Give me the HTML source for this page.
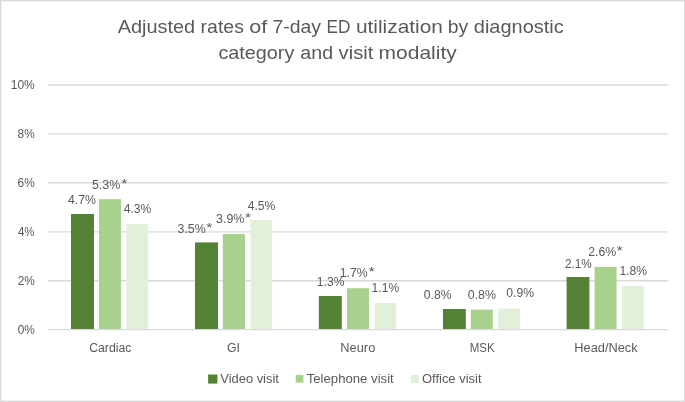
<!DOCTYPE html>
<html><head><meta charset="utf-8"><title>Adjusted rates of 7-day ED utilization</title>
<style>
html,body{margin:0;padding:0;background:#fff}
svg{display:block}
text{font-family:"Liberation Sans", sans-serif;fill:#595959}
</style></head><body>
<svg width="685" height="402" viewBox="0 0 685 402">
<rect x="0" y="0" width="685" height="402" fill="#fff"/>
<rect x="0" y="0" width="685" height="1.35" fill="#d9d9d9"/>
<rect x="0" y="0" width="1.4" height="402" fill="#d9d9d9"/>
<rect x="683.95" y="0" width="1.05" height="402" fill="#d9d9d9"/>
<rect x="0" y="400.6" width="685" height="1.4" fill="#d9d9d9"/>
<line x1="48.0" x2="667.6" y1="85.00" y2="85.00" stroke="#d9d9d9" stroke-width="1.4"/>
<line x1="48.0" x2="667.6" y1="133.90" y2="133.90" stroke="#d9d9d9" stroke-width="1.4"/>
<line x1="48.0" x2="667.6" y1="182.80" y2="182.80" stroke="#d9d9d9" stroke-width="1.4"/>
<line x1="48.0" x2="667.6" y1="231.90" y2="231.90" stroke="#d9d9d9" stroke-width="1.4"/>
<line x1="48.0" x2="667.6" y1="280.70" y2="280.70" stroke="#d9d9d9" stroke-width="1.4"/>
<line x1="48.0" x2="667.6" y1="329.60" y2="329.60" stroke="#d9d9d9" stroke-width="1.4"/>
<rect x="71" y="214" width="23.00" height="115.00" fill="#548235"/>
<rect x="99" y="199.2" width="22.00" height="129.80" fill="#a9d18e"/>
<rect x="126.2" y="224" width="22.00" height="105.00" fill="#e2f0d9"/>
<rect x="195" y="242.4" width="23.00" height="86.60" fill="#548235"/>
<rect x="222.8" y="234" width="22.20" height="95.00" fill="#a9d18e"/>
<rect x="250.4" y="220" width="21.80" height="109.00" fill="#e2f0d9"/>
<rect x="318.8" y="296" width="23.00" height="33.00" fill="#548235"/>
<rect x="347" y="288.2" width="22.00" height="40.80" fill="#a9d18e"/>
<rect x="374.4" y="303" width="21.80" height="26.00" fill="#e2f0d9"/>
<rect x="443" y="309" width="22.80" height="20.00" fill="#548235"/>
<rect x="470.8" y="309.6" width="22.00" height="19.40" fill="#a9d18e"/>
<rect x="498.2" y="308.6" width="21.80" height="20.40" fill="#e2f0d9"/>
<rect x="566.6" y="277" width="22.80" height="52.00" fill="#548235"/>
<rect x="594.6" y="267" width="22.00" height="62.00" fill="#a9d18e"/>
<rect x="622" y="286" width="21.80" height="43.00" fill="#e2f0d9"/>
<rect x="208.1" y="374.5" width="9.3" height="9.1" fill="#548235"/>
<rect x="295.7" y="374.9" width="7.7" height="7.7" fill="#a9d18e"/>
<rect x="410.9" y="374.9" width="7.8" height="8.0" fill="#e2f0d9"/>
<text x="117.66" y="32.60" font-size="19.0" textLength="77.47" lengthAdjust="spacingAndGlyphs">Adjusted</text>
<text x="200.61" y="32.60" font-size="19.0" textLength="43.29" lengthAdjust="spacingAndGlyphs">rates</text>
<text x="249.33" y="32.60" font-size="19.0" textLength="17.96" lengthAdjust="spacingAndGlyphs">of</text>
<text x="272.52" y="32.60" font-size="19.0" textLength="48.56" lengthAdjust="spacingAndGlyphs">7-day</text>
<text x="326.62" y="32.60" font-size="19.0" textLength="23.91" lengthAdjust="spacingAndGlyphs">ED</text>
<text x="355.90" y="32.60" font-size="19.0" textLength="87.02" lengthAdjust="spacingAndGlyphs">utilization</text>
<text x="447.70" y="32.60" font-size="19.0" textLength="20.50" lengthAdjust="spacingAndGlyphs">by</text>
<text x="473.77" y="32.60" font-size="19.0" textLength="90.04" lengthAdjust="spacingAndGlyphs">diagnostic</text>
<text x="218.42" y="59.00" font-size="19.0" textLength="75.90" lengthAdjust="spacingAndGlyphs">category</text>
<text x="300.33" y="59.00" font-size="19.0" textLength="32.77" lengthAdjust="spacingAndGlyphs">and</text>
<text x="338.63" y="59.00" font-size="19.0" textLength="34.71" lengthAdjust="spacingAndGlyphs">visit</text>
<text x="378.59" y="59.00" font-size="19.0" textLength="78.13" lengthAdjust="spacingAndGlyphs">modality</text>
<text x="10.70" y="89.00" font-size="12.5" textLength="24.09" lengthAdjust="spacingAndGlyphs">10%</text>
<text x="17.57" y="137.90" font-size="12.5" textLength="17.07" lengthAdjust="spacingAndGlyphs">8%</text>
<text x="17.58" y="186.80" font-size="12.5" textLength="17.13" lengthAdjust="spacingAndGlyphs">6%</text>
<text x="18.00" y="235.90" font-size="12.5" textLength="16.57" lengthAdjust="spacingAndGlyphs">4%</text>
<text x="17.70" y="284.70" font-size="12.5" textLength="17.19" lengthAdjust="spacingAndGlyphs">2%</text>
<text x="17.63" y="333.60" font-size="12.5" textLength="17.12" lengthAdjust="spacingAndGlyphs">0%</text>
<text x="89.17" y="351.70" font-size="12.5" textLength="42.22" lengthAdjust="spacingAndGlyphs">Cardiac</text>
<text x="227.00" y="351.70" font-size="12.5" textLength="12.98" lengthAdjust="spacingAndGlyphs">GI</text>
<text x="340.35" y="351.70" font-size="12.5" textLength="34.93" lengthAdjust="spacingAndGlyphs">Neuro</text>
<text x="469.72" y="351.70" font-size="12.5" textLength="25.12" lengthAdjust="spacingAndGlyphs">MSK</text>
<text x="574.36" y="351.70" font-size="12.5" textLength="63.29" lengthAdjust="spacingAndGlyphs">Head/Neck</text>
<text x="67.99" y="204.00" font-size="12.5" textLength="28.08" lengthAdjust="spacingAndGlyphs">4.7%</text>
<text x="91.95" y="188.60" font-size="12.5" textLength="28.38" lengthAdjust="spacingAndGlyphs">5.3%</text>
<text x="121.18" y="187.50" font-size="12.5" textLength="6.16" lengthAdjust="spacingAndGlyphs">*</text>
<text x="123.73" y="213.30" font-size="12.5" textLength="27.55" lengthAdjust="spacingAndGlyphs">4.3%</text>
<text x="177.56" y="233.30" font-size="12.5" textLength="28.13" lengthAdjust="spacingAndGlyphs">3.5%</text>
<text x="206.22" y="232.20" font-size="12.5" textLength="6.08" lengthAdjust="spacingAndGlyphs">*</text>
<text x="216.08" y="223.00" font-size="12.5" textLength="28.26" lengthAdjust="spacingAndGlyphs">3.9%</text>
<text x="245.07" y="221.90" font-size="12.5" textLength="6.06" lengthAdjust="spacingAndGlyphs">*</text>
<text x="247.70" y="210.00" font-size="12.5" textLength="27.61" lengthAdjust="spacingAndGlyphs">4.5%</text>
<text x="316.83" y="286.00" font-size="12.5" textLength="27.61" lengthAdjust="spacingAndGlyphs">1.3%</text>
<text x="339.83" y="277.20" font-size="12.5" textLength="27.84" lengthAdjust="spacingAndGlyphs">1.7%</text>
<text x="368.48" y="276.10" font-size="12.5" textLength="6.37" lengthAdjust="spacingAndGlyphs">*</text>
<text x="371.61" y="292.30" font-size="12.5" textLength="27.50" lengthAdjust="spacingAndGlyphs">1.1%</text>
<text x="423.80" y="299.00" font-size="12.5" textLength="27.75" lengthAdjust="spacingAndGlyphs">0.8%</text>
<text x="467.79" y="299.00" font-size="12.5" textLength="28.25" lengthAdjust="spacingAndGlyphs">0.8%</text>
<text x="506.31" y="296.70" font-size="12.5" textLength="27.75" lengthAdjust="spacingAndGlyphs">0.9%</text>
<text x="564.90" y="267.50" font-size="12.5" textLength="26.87" lengthAdjust="spacingAndGlyphs">2.1%</text>
<text x="588.18" y="256.40" font-size="12.5" textLength="28.11" lengthAdjust="spacingAndGlyphs">2.6%</text>
<text x="616.47" y="255.30" font-size="12.5" textLength="6.37" lengthAdjust="spacingAndGlyphs">*</text>
<text x="619.39" y="275.30" font-size="12.5" textLength="27.71" lengthAdjust="spacingAndGlyphs">1.8%</text>
<text x="220.25" y="383.00" font-size="12.5" textLength="58.67" lengthAdjust="spacingAndGlyphs">Video visit</text>
<text x="306.69" y="383.00" font-size="12.5" textLength="87.08" lengthAdjust="spacingAndGlyphs">Telephone visit</text>
<text x="421.97" y="383.00" font-size="12.5" textLength="59.52" lengthAdjust="spacingAndGlyphs">Office visit</text>
</svg>
</body></html>
